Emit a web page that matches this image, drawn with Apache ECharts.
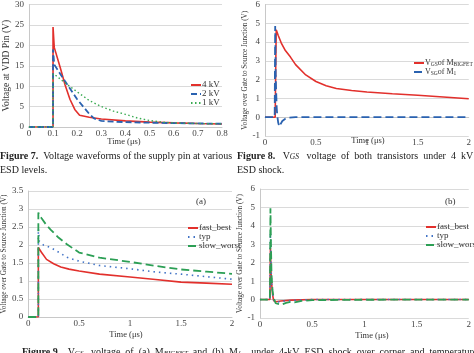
<!DOCTYPE html>
<html>
<head>
<meta charset="utf-8">
<script src="https://cdn.jsdelivr.net/npm/echarts@6/dist/echarts.min.js"></script>
<style>
  html, body { margin: 0; padding: 0; background: #fff; }
  #main { width: 474px; height: 353px; }
</style>
</head>
<body>
<div id="main"></div>
<script>
// Figure 7 - supply pin voltage at various ESD levels
const f7_t_4kv = [0, 0.1, 0.1, 0.105, 0.11, 0.13, 0.15, 0.17, 0.19, 0.21, 0.25, 0.3, 0.4, 0.5, 0.6, 0.7, 0.8];
const f7_v_4kv = [0, 0, 24.5, 19.5, 19.8, 14.5, 10.3, 6.8, 4.3, 2.9, 2.4, 1.95, 1.5, 1.2, 1.0, 0.85, 0.75];
const f7_t_2kv = [0, 0.1, 0.1, 0.105, 0.11, 0.13, 0.15, 0.2, 0.25, 0.27, 0.3, 0.35, 0.4, 0.5, 0.6, 0.8];
const f7_v_2kv = [0, 0, 19, 15.3, 15.2, 13, 11.2, 6.8, 3.2, 2.1, 1.5, 1.3, 1.2, 1.05, 0.95, 0.8];
const f7_t_1kv = [0, 0.1, 0.1, 0.11, 0.15, 0.2, 0.25, 0.3, 0.35, 0.4, 0.45, 0.5, 0.55, 0.6, 0.7, 0.8];
const f7_v_1kv = [0, 0, 13, 12.7, 10.8, 8.6, 6.5, 5.0, 3.9, 3.1, 2.2, 1.6, 1.2, 1.0, 0.85, 0.75];

// Figure 8 - VGS of both transistors under 4 kV
const f8_t_bigfet = [0, 0.1, 0.105, 0.11, 0.13, 0.16, 0.2, 0.25, 0.3, 0.4, 0.5, 0.6, 0.7, 0.85, 1.0, 1.25, 1.5, 1.75, 2];
const f8_v_bigfet = [0, 0, 2.5, 4.65, 4.35, 3.95, 3.55, 3.2, 2.8, 2.25, 1.9, 1.68, 1.53, 1.42, 1.34, 1.25, 1.17, 1.08, 0.98];
const f8_t_m1 = [0, 0.095, 0.1, 0.105, 0.11, 0.115, 0.12, 0.13, 0.14, 0.15, 0.17, 0.2, 0.23, 0.3, 2];
const f8_v_m1 = [0, 0, 4.85, 2.2, 1.3, 0.5, 0.1, -0.3, -0.5, -0.45, -0.2, -0.08, -0.02, 0, 0];

// Figure 9a - VGS of M_BIGFET over corners
const f9a_t_fast = [0, 0.1, 0.1, 0.13, 0.18, 0.25, 0.32, 0.4, 0.5, 0.7, 1.0, 1.25, 1.5, 1.75, 2];
const f9a_v_fast = [0, 0, 1.93, 1.8, 1.6, 1.48, 1.39, 1.33, 1.28, 1.19, 1.11, 1.04, 0.97, 0.94, 0.91];
const f9a_t_typ = [0, 0.1, 0.1, 0.11, 0.12, 0.15, 0.22, 0.3, 0.38, 0.5, 0.7, 1.0, 1.25, 1.5, 1.75, 2];
const f9a_v_typ = [0, 0, 2.45, 2.1, 2.05, 2.0, 1.93, 1.8, 1.66, 1.55, 1.43, 1.34, 1.25, 1.19, 1.12, 1.05];
const f9a_t_slow = [0, 0.1, 0.1, 0.13, 0.18, 0.22, 0.3, 0.38, 0.5, 0.7, 1.0, 1.25, 1.5, 1.75, 2];
const f9a_v_slow = [0, 0, 2.9, 2.75, 2.55, 2.43, 2.2, 2.02, 1.79, 1.65, 1.53, 1.42, 1.32, 1.26, 1.2];

// Figure 9b - VGS of M1 over corners
const f9b_t_fast = [0, 0.095, 0.1, 0.105, 0.11, 0.12, 0.13, 0.15, 0.2, 0.3, 0.5, 2];
const f9b_v_fast = [0, 0, 2.8, 1.6, 1.0, 0.3, -0.05, -0.12, -0.08, -0.03, 0, 0];
const f9b_t_typ = [0, 0.095, 0.1, 0.105, 0.11, 0.12, 0.13, 0.15, 0.2, 0.3, 0.5, 2];
const f9b_v_typ = [0, 0, 3.6, 2.0, 1.1, 0.4, 0, -0.15, -0.1, -0.05, 0, 0];
const f9b_t_slow = [0, 0.095, 0.1, 0.105, 0.11, 0.115, 0.12, 0.13, 0.15, 0.2, 0.25, 0.3, 0.33, 0.4, 0.5, 1, 2];
const f9b_v_slow = [0, 0, 4.95, 3.0, 1.4, 0.9, 0.5, 0.1, -0.2, -0.28, -0.18, -0.12, -0.15, -0.07, -0.03, -0.01, 0];

const f7_names = ['4 kV', '2 kV', '1 kV'];
const f8_names = ['VGS of MBIGFET', 'VSG of M1'];
const f9_names = ['fast_best', 'typ', 'slow_worst'];

const serif = 'Liberation Serif';
const red = '#e2302c', blue = '#2a62b0', green = '#3aab52', blueDot = '#4173c6', greenDash = '#2c9f55';

function zip(t, v) { return t.map((x, i) => [x, v[i]]); }

let chart = echarts.init(document.getElementById('main'));

function xAxis(gridIndex, max, interval) {
    return {
        type: 'value', gridIndex: gridIndex, min: 0, max: max, interval: interval,
        axisLine: {lineStyle: {color: '#c8c8c8'}},
        axisTick: {show: false},
        splitLine: {show: false},
        axisLabel: {fontFamily: serif, fontSize: 9, color: '#444', margin: 2}
    };
}
function yAxis(gridIndex, min, max, interval, name, nameGap, nameSize) {
    return {
        type: 'value', gridIndex: gridIndex, min: min, max: max, interval: interval,
        name: name, nameLocation: 'middle', nameGap: nameGap,
        nameTextStyle: {fontFamily: serif, fontSize: nameSize, color: '#333'},
        axisLine: {show: true, lineStyle: {color: '#c8c8c8'}},
        axisTick: {show: false},
        splitLine: {lineStyle: {color: '#dadada'}},
        axisLabel: {fontFamily: serif, fontSize: 9, color: '#444', margin: 5}
    };
}
function line(name, idx, data, color, type, width) {
    return {
        type: 'line', name: name, xAxisIndex: idx, yAxisIndex: idx, data: data,
        showSymbol: false, symbol: 'none', animation: false,
        lineStyle: {color: color, type: type, width: width},
        itemStyle: {color: color}
    };
}
function legend(names, left, top, fontSize) {
    return {
        data: names, orient: 'vertical', left: left, top: top,
        itemWidth: 10, itemHeight: 9, itemGap: 0, padding: 0,
        itemStyle: {opacity: 0},
        textStyle: {fontFamily: serif, fontSize: fontSize, lineHeight: 9, color: '#333', padding: [0, 0, 0, -4]}
    };
}
function timeLabel(x, y) {
    return {type: 'text', x: x, y: y, style: {
        text: 'Time (μs)', font: '8.5px "Liberation Serif"', fill: '#333',
        align: 'center', verticalAlign: 'middle'
    }};
}

let f8_legend = legend(f8_names, 413, 58.5, 8);
f8_legend.formatter = function (name) {
    return name === f8_names[0] ? 'V{s|GS}of M{s|BIGFET}' : 'V{s|SG}of M{s|1}';
};
f8_legend.textStyle.rich = {s: {fontSize: 5.5, fontFamily: serif, color: '#333', padding: [3, 0, 0, 0]}};

let option = {
    animation: false,
    grid: [
        {left: 22, top: 4.5, width: 200, height: 122.5},
        {left: 265, top: 3, width: 204, height: 133},
        {left: 28, top: 191, width: 204, height: 126},
        {left: 260, top: 189, width: 212, height: 129}
    ],
    xAxis: [
        xAxis(0, 0.8, 0.1),
        xAxis(1, 2, 0.5),
        xAxis(2, 2, 0.5),
        xAxis(3, 2, 0.5)
    ],
    yAxis: [
        yAxis(0, 0, 30, 5, 'Voltage at VDD Pin (V)', 11, 9.5),
        yAxis(1, -1, 6, 1, 'Voltage over Gate to Source Junction (V)', 12, 7.2),
        yAxis(2, 0, 3.5, 0.5, 'Voltage over Gate to Source Junction (V)', 18, 7.2),
        yAxis(3, -1, 6, 1, 'Voltage over Gate to Source Junction (V)', 13, 7.2)
    ],
    legend: [
        legend(f7_names, 190, 80.5, 9),
        f8_legend,
        legend(f9_names, 187, 223.5, 9),
        legend(f9_names, 425, 222.5, 9)
    ],
    series: [
        line(f7_names[0], 0, zip(f7_t_4kv, f7_v_4kv), red, 'solid', 1.6),
        line(f7_names[1], 0, zip(f7_t_2kv, f7_v_2kv), blue, [6, 3], 1.8),
        line(f7_names[2], 0, zip(f7_t_1kv, f7_v_1kv), green, [1.5, 2.5], 1.4),
        line(f8_names[0], 1, zip(f8_t_bigfet, f8_v_bigfet), red, 'solid', 1.6),
        line(f8_names[1], 1, zip(f8_t_m1, f8_v_m1), blue, [8, 4], 1.8),
        line(f9_names[0], 2, zip(f9a_t_fast, f9a_v_fast), red, 'solid', 1.6),
        line(f9_names[1], 2, zip(f9a_t_typ, f9a_v_typ), blueDot, [1.5, 4], 1.6),
        line(f9_names[2], 2, zip(f9a_t_slow, f9a_v_slow), greenDash, [8, 4], 1.8),
        line(f9_names[0], 3, zip(f9b_t_fast, f9b_v_fast), red, 'solid', 1.6),
        line(f9_names[1], 3, zip(f9b_t_typ, f9b_v_typ), blueDot, [1.5, 4], 1.6),
        line(f9_names[2], 3, zip(f9b_t_slow, f9b_v_slow), greenDash, [8, 4], 1.8)
    ],
    graphic: [
        timeLabel(124, 142),
        timeLabel(368, 141),
        timeLabel(126, 335),
        timeLabel(372, 336),
        {type: 'text', left: 0, top: 149, style: {
            text: '{b|Figure 7.}  Voltage waveforms of the supply pin at various\nESD levels.',
            font: '10px "Liberation Serif"', fill: '#222', lineHeight: 14,
            rich: {b: {fontWeight: 'bold', fontSize: 10, fontFamily: serif, lineHeight: 14}}
        }},
        {type: 'text', left: 237, top: 149, style: {
            text: '{b|Figure 8.}   V{i|GS}   voltage  of  both  transistors  under  4  kV\nESD shock.',
            font: '10px "Liberation Serif"', fill: '#222', lineHeight: 14,
            rich: {b: {fontWeight: 'bold', fontSize: 10, fontFamily: serif, lineHeight: 14},
                   i: {fontStyle: 'italic', fontSize: 7.5, fontFamily: serif, lineHeight: 14, padding: [3, 0, 0, 0]}}
        }},
        {type: 'text', left: 22, top: 345, style: {
            text: '{b|Figure 9.}   V{i|GS}   voltage  of  (a)  M{i|BIGFET}  and  (b)  M{i|1}    under  4-kV  ESD  shock  over  corner  and  temperature.',
            font: '10px "Liberation Serif"', fill: '#222', lineHeight: 14,
            rich: {b: {fontWeight: 'bold', fontSize: 10, fontFamily: serif, lineHeight: 14},
                   i: {fontStyle: 'italic', fontSize: 7, fontFamily: serif, lineHeight: 14, padding: [3, 0, 0, 0]}}
        }},
        {type: 'text', left: 196, top: 197, style: {text: '(a)', font: '9px "Liberation Serif"', fill: '#333'}},
        {type: 'text', left: 445, top: 197, style: {text: '(b)', font: '9px "Liberation Serif"', fill: '#333'}}
    ]
};

chart.setOption(option);
</script>
</body>
</html>
